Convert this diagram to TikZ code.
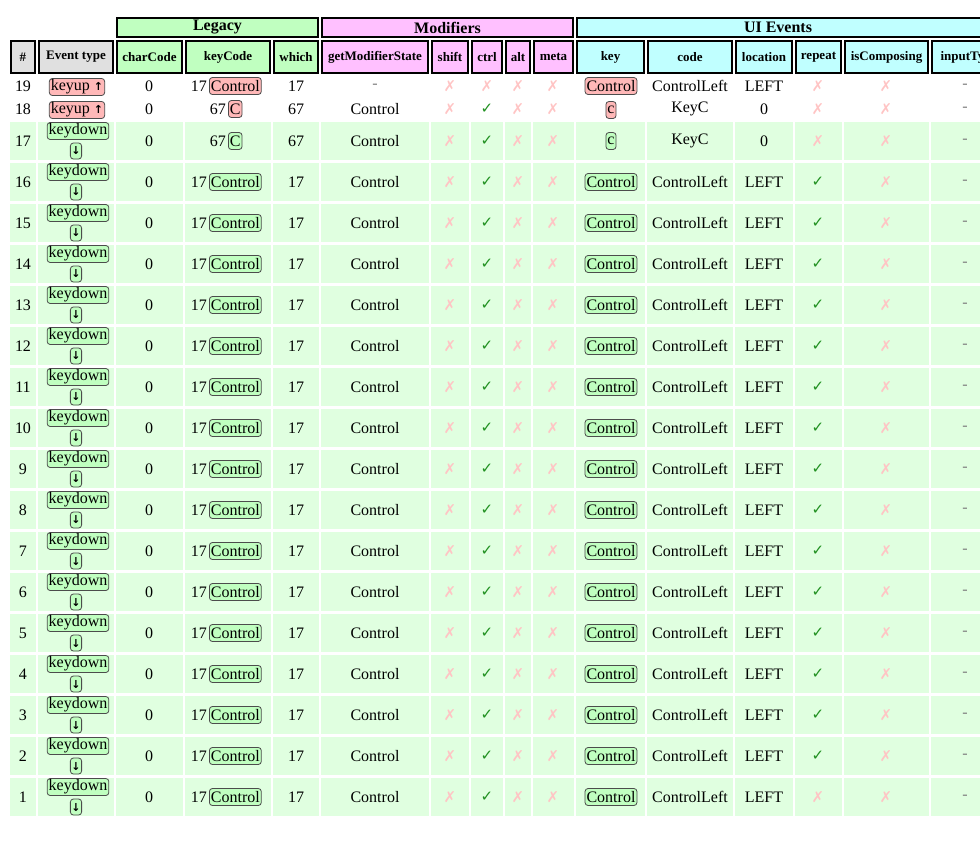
\documentclass[tikz,border=0pt]{standalone}
\usepackage{fontspec}
\setmainfont{Liberation Serif}
\newfontfamily\dejavu{DejaVu Sans}
\definecolor{hgray}{HTML}{E0E0E0}
\definecolor{hgreen}{HTML}{C0FFC0}
\definecolor{hpink}{HTML}{FFC0FF}
\definecolor{hcyan}{HTML}{C0FFFF}
\definecolor{rowgreen}{HTML}{E0FFE0}
\definecolor{upred}{HTML}{FFB8B8}
\definecolor{okgreen}{HTML}{209020}
\definecolor{nored}{HTML}{FFC4C4}
\newcommand\cols{10/36,38/114,116/183,185/271,273/319,321/429,431/469,471/503,505/531,533/574,576/645,647/733,735/793,795/842,844/929,931/990}
\newcommand\Y[3]{\node[txt] at (#1,#2) {#3};}
\newcommand\OK[2]{\node[mk,text=okgreen] at (#1,#2) {✓};}
\newcommand\NO[2]{\node[mk,text=nored] at (#1,#2) {✗};}
\newcommand\DS[2]{\node[txt,text=gray] at (#1,#2) {-};}
\newcommand\common[1]{%
  \Y{149}{#1}{0}%
  \NO{450}{#1}\OK{487}{#1}\NO{518}{#1}\NO{553}{#1}\NO{886}{#1}\DS{965}{#1}}
\begin{document}
\begin{tikzpicture}[x=1pt,y=-1pt,
  txt/.style={font=\fontsize{16}{18}\selectfont, inner sep=0pt},
  mk/.style={font=\dejavu\fontsize{15}{15}\selectfont, inner sep=0pt},
  hdr/.style={draw=black, line width=1.3pt, font=\bfseries\fontsize{13}{15}\selectfont},
  grp/.style={draw=black, line width=1.3pt, font=\bfseries\fontsize{16}{18}\selectfont},
  badge/.style={draw=black!70, line width=0.8pt, rounded corners=3pt, inner xsep=1.5pt, inner ysep=0pt, minimum height=17pt, font=\fontsize{16}{18}\selectfont},
  kdown/.style={badge, fill=hgreen},
  kup/.style={badge, fill=upred}]
\useasboundingbox (0,0) rectangle (980,852);
\clip (0,0) rectangle (980,852);
% group headers
\draw[grp,fill=hgreen] (117,18) rectangle node (gl) {Legacy} (318,37);
\draw[grp,fill=hpink] (322,18) rectangle node (gm) {Modifiers} (573,37);
\draw[grp,fill=hcyan] (577,18) rectangle (995,37);
\node[font=\bfseries\fontsize{16}{18}\selectfont] (gu) at (778,27.5) {UI Events};
% column headers
\foreach \l/\r/\c/\t [count=\i] in {10/36/hgray/\#,38/114/hgray/Event type,116/183/hgreen/charCode,185/271/hgreen/keyCode,273/319/hgreen/which,321/429/hpink/getModifierState,431/469/hpink/shift,471/503/hpink/ctrl,505/531/hpink/alt,533/574/hpink/meta,576/645/hcyan/key,647/733/hcyan/code,735/793/hcyan/location,795/842/hcyan/repeat,844/929/hcyan/isComposing}
  \draw[hdr,fill=\c] (\l+1,41) rectangle node (h\i) {\t} (\r-1,73);
\draw[hdr,fill=hcyan] (932,41) rectangle (995,73);
\node[font=\bfseries\fontsize{13}{15}\selectfont, anchor=west] (h16) at (937,57) {inputType};
% green row backgrounds
\foreach \k in {0,...,16}{
  \pgfmathsetmacro\yt{122+41*\k}
  \foreach \l/\r in \cols
    \fill[rowgreen] (\l,\yt) rectangle (\r,\yt+38);
}
% row 19
\Y{23}{86}{19}
\node[kup] (e19) at (77,87) {keyup {\dejavu\bfseries\fontsize{11}{11}\selectfont ↑}};
\Y{149}{86}{0}
\node[txt,anchor=east] at (207,86) {17};
\node[kup,anchor=west] (kc19) at (209,86) {Control};
\Y{296}{86}{17}
\DS{375}{86}
\NO{450}{86}\NO{487}{86}\NO{518}{86}\NO{553}{86}
\node[kup] (k19) at (611,86) {Control};
\Y{690}{86}{ControlLeft}\Y{764}{86}{LEFT}\NO{818}{86}\NO{886}{86}\DS{965}{86}
% row 18
\Y{23}{109}{18}
\node[kup] (e18) at (77,110) {keyup {\dejavu\bfseries\fontsize{11}{11}\selectfont ↑}};
\Y{149}{109}{0}
\node[txt,anchor=east] at (226,109) {67};
\node[kup,anchor=west] (kc18) at (228,109) {C};
\Y{296}{109}{67}
\Y{375}{109}{Control}
\NO{450}{109}\OK{487}{109}\NO{518}{109}\NO{553}{109}
\node[kup] (k18) at (611,110) {c};
\Y{690}{109}{KeyC}\Y{764}{109}{0}\NO{818}{109}\NO{886}{109}\DS{965}{109}
% rows 17..1
\foreach \n in {17,...,1}{
  \pgfmathsetmacro\yc{141+41*(17-\n)}
  \Y{23}{\yc}{\n}
  \node[kdown] (ed\n) at (78,\yc-10) {keydown};
  \node[kdown,minimum height=16pt,inner xsep=1pt] (ea\n) at (76,\yc+10) {\dejavu\bfseries\fontsize{11}{11}\selectfont ↓};
  \common{\yc}
  \Y{375}{\yc}{Control}
}
% row 17 specifics
\node[txt,anchor=east] at (226,141) {67};
\node[kdown,anchor=west] (kc17) at (228,141) {C};
\Y{296}{141}{67}
\node[kdown] (k17) at (611,141) {c};
\Y{690}{141}{KeyC}\Y{764}{141}{0}\NO{818}{141}
% rows 16..1
\foreach \n in {16,...,1}{
  \pgfmathsetmacro\yc{141+41*(17-\n)}
  \node[txt,anchor=east] at (207,\yc) {17};
  \node[kdown,anchor=west] (kc\n) at (209,\yc) {Control};
  \Y{296}{\yc}{17}
  \node[kdown] (k\n) at (611,\yc) {Control};
  \Y{690}{\yc}{ControlLeft}\Y{764}{\yc}{LEFT}
}
\foreach \n in {16,...,2}{
  \pgfmathsetmacro\yc{141+41*(17-\n)}
  \OK{818}{\yc}
}
\NO{818}{797}
\end{tikzpicture}
\end{document}
